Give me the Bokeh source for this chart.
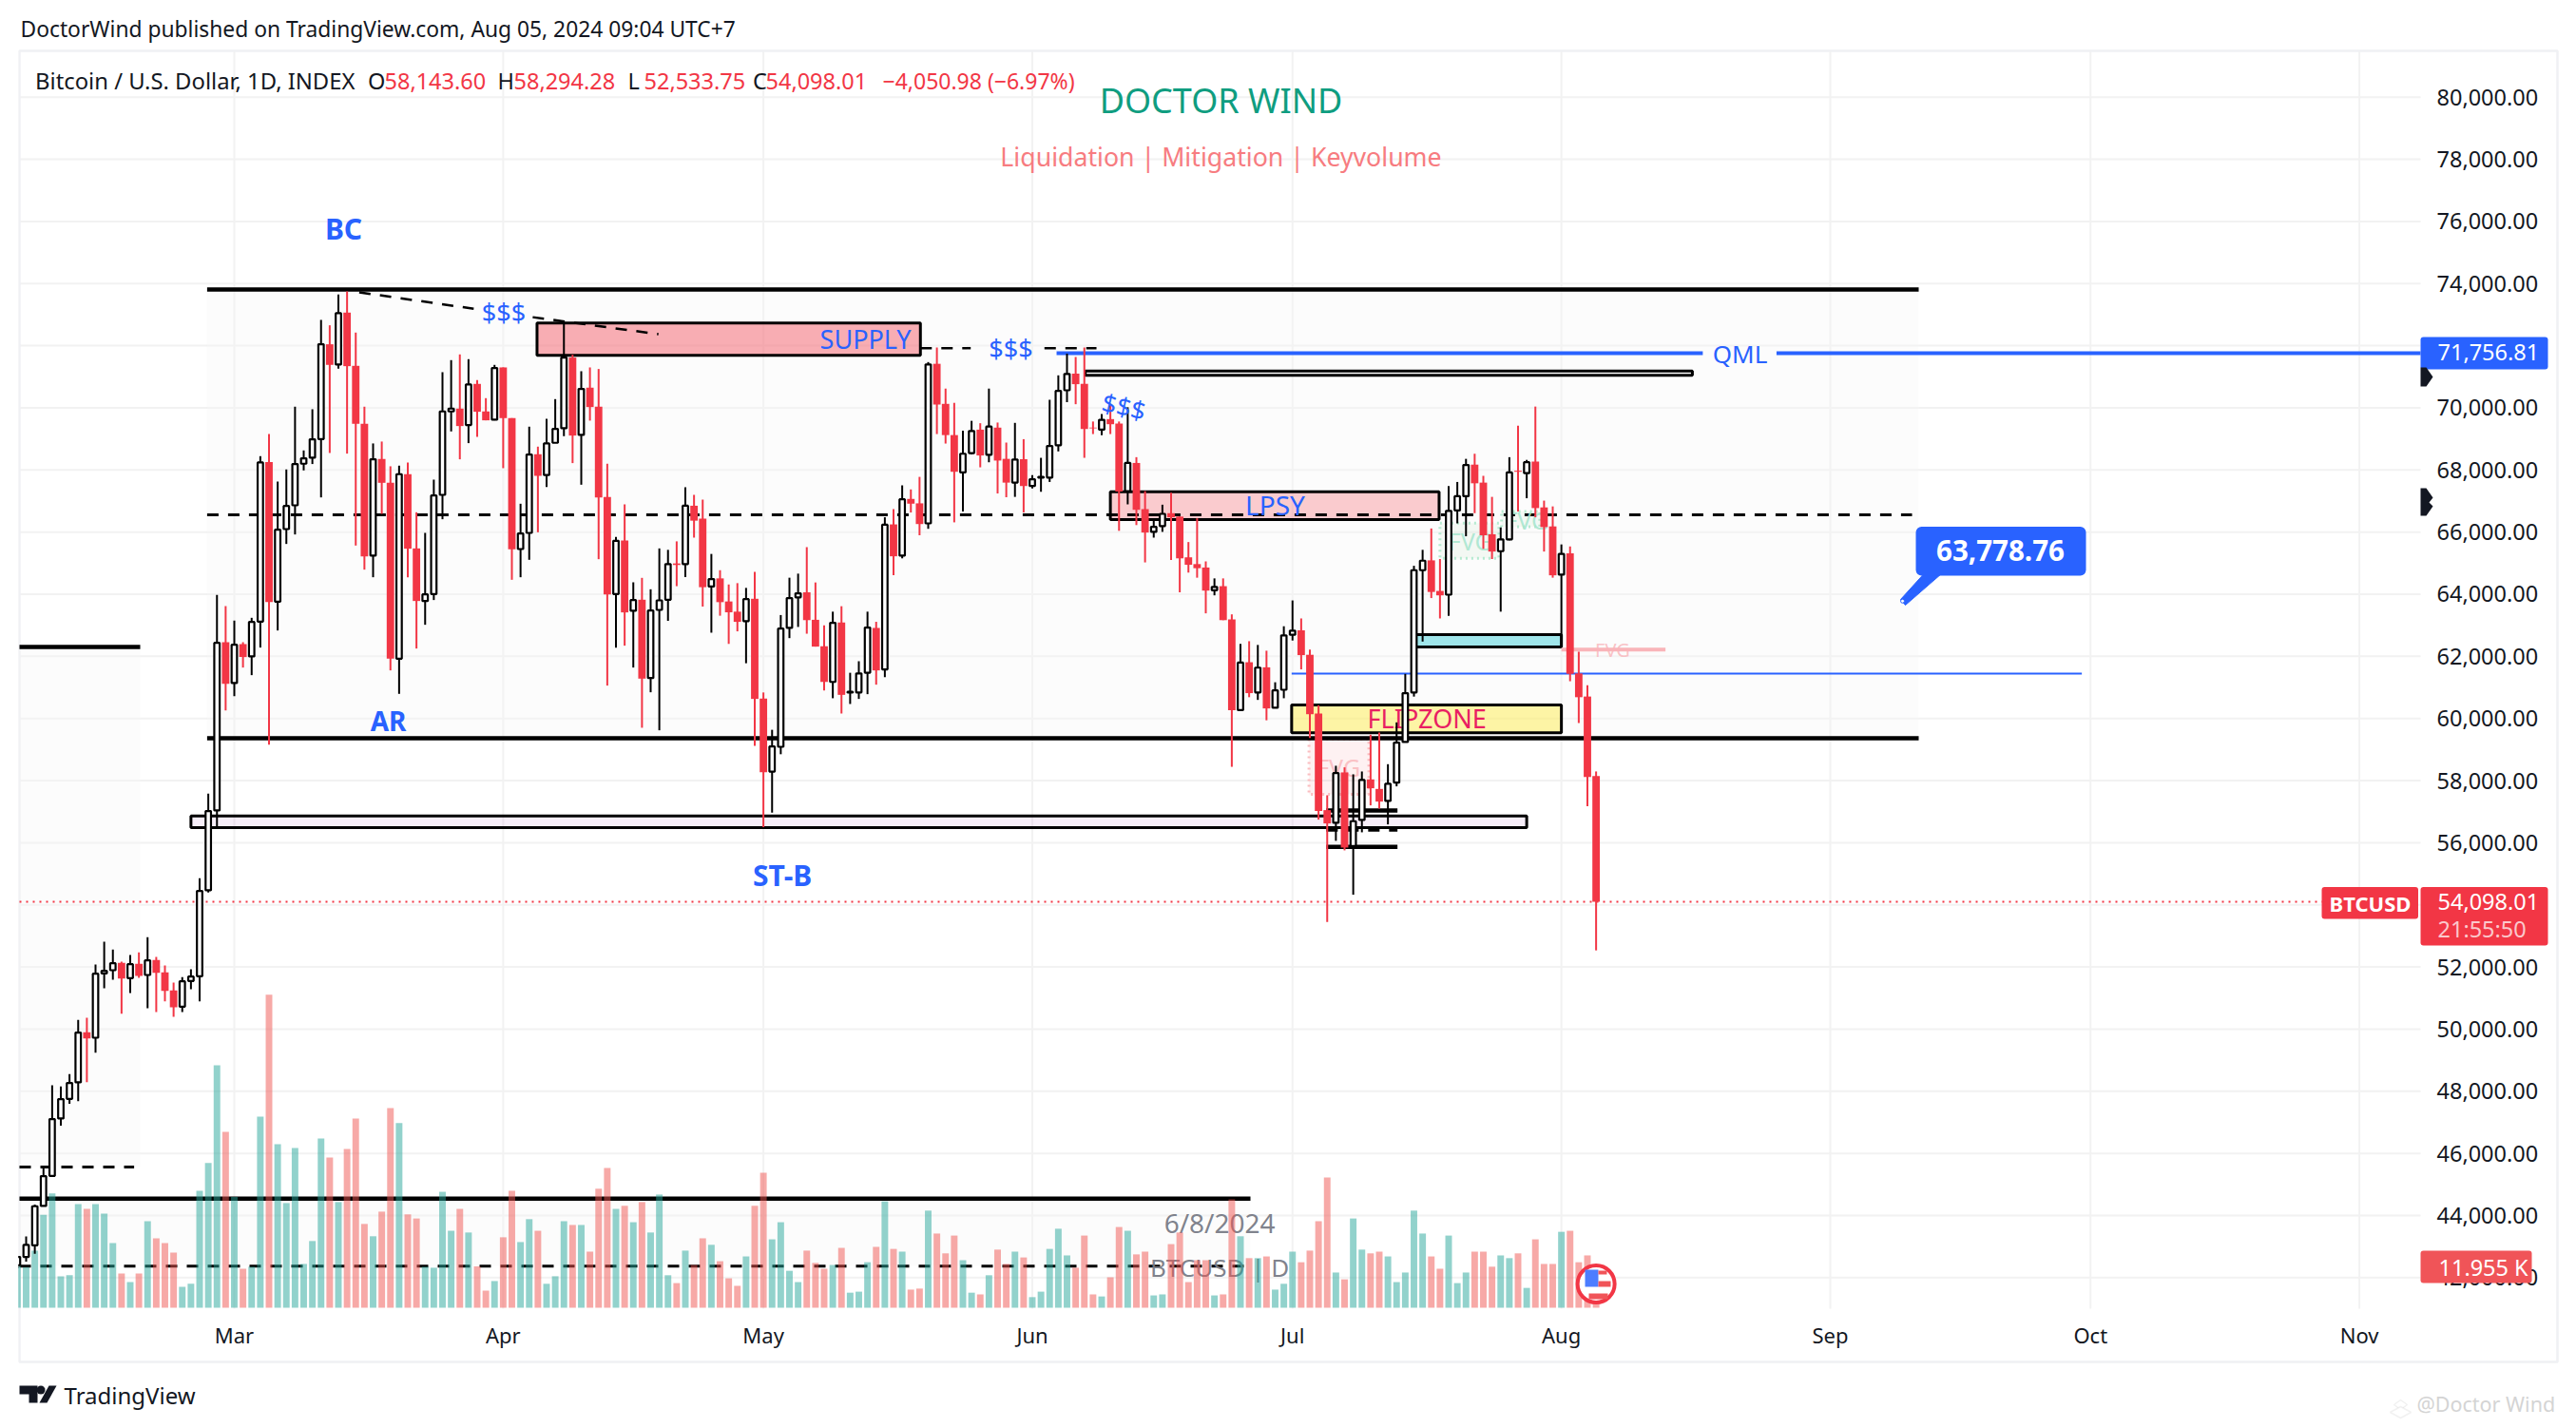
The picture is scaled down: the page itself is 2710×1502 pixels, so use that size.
from bokeh.plotting import figure
from bokeh.embed import file_html
from bokeh.resources import INLINE
from bokeh.core.properties import value
from bokeh.models import (Range1d, LinearAxis, FixedTicker, NumeralTickFormatter, Label,
                          BoxAnnotation, PolyAnnotation)
import math

# ---------- data (day number relative to 1 Mar 2024) ----------
first_day = -25
opens = [42400,42665,43042,44307,45276,47122,47755,48285,49897,49723,
 51794,51896,52131,51641,52100,51743,52222,51825,51243,50723,
 51549,51702,54468,57039,62455,61139,62394,61996,63118,68251,
 63761,66096,66861,68200,68393,68995,72045,71392,73065,71351,
 69485,65240,68353,67586,61925,67863,65474,63781,64005,67198,
 69883,69975,69444,70770,69883,69617,71300,69668,65454,65974,
 68505,67835,68873,69342,71617,69128,70648,70036,67127,64005,
 65729,63465,63822,61302,63495,63821,64990,64968,66848,66433,
 64247,64509,63766,63438,63132,63853,60640,58290,59088,62914,
 63897,64061,63176,62324,61176,63089,60835,60837,61471,62914,
 61580,66247,65242,67067,66925,66280,71417,70127,69122,67920,
 68543,69297,68488,69362,68357,67592,68346,67482,67750,67755,
 68794,70565,71100,70772,69363,69297,69636,69493,67318,68225,
 66739,66007,66193,66608,66498,65187,64969,64859,64127,64258,
 63187,60268,61810,60837,61646,60345,60924,62695,62837,62050,
 60160,57049,56641,58263,55896,56733,58038,57732,57345,57936,
 59242,60837,64772,65089,64105,63985,66695,67154,68171,67592,
 65930,65384,65766,67974,67898,68269,66794,66182,64630,65318,
 61449,60706,58143.60]
closes = [42665,43053,44297,45266,47102,47745,48265,49887,49703,51784,
 51876,52120,51631,52090,51712,52212,51814,51233,50703,51539,
 51692,54448,57018,62435,61119,62373,61976,63108,68240,63750,
 66076,66841,68190,68373,68985,72045,71382,73045,71341,69485,
 65219,68342,67586,61925,67863,65464,63781,63995,67178,69883,
 69975,69413,70750,69873,69597,71280,69668,65444,65954,68495,
 67810,68852,69322,71617,69107,70607,70025,67116,63995,65719,
 63414,63812,61282,63475,63801,64968,64940,66848,66367,64225,
 64487,63744,63417,63110,63842,60629,58269,59099,62892,63875,
 64029,63165,62313,61176,63078,60760,60857,61449,62925,61547,
 66236,65220,67056,66914,66258,71395,70105,69122,67941,68521,
 69253,68466,69395,68302,67592,68335,67482,67701,67776,68772,
 70543,71089,70761,69318,69340,69614,69472,67307,68225,66717,
 65985,66171,66586,66477,65154,64947,64837,64116,64236,63165,
 60268,61799,60815,61635,60323,60902,62673,62826,62039,60137,
 57018,56621,58242,55845,56692,58018,57753,57324,57896,59222,
 60813,64772,65078,64072,63963,66684,67154,68160,67570,65897,
 65373,65766,67920,67941,68247,66772,66160,64608,65296,61438,
 60684,58115,54098.01]
highs = [42700,43328,44348,45572,48193,48153,48550,50295,50366,52080,
 52816,52561,52171,52386,52467,52959,52324,52049,51498,51672,
 51927,54856,57579,63975,63618,63149,62455,63240,68444,69158,
 67626,68016,70036,68628,69954,72830,72657,73647,73748,72422,
 70036,68853,68914,68118,68138,68240,66637,65974,67688,71147,
 71535,71719,71566,70892,70311,71382,71300,69668,66912,69393,
 68750,69648,70280,72708,71709,71178,71300,71250,68200,65841,
 66892,64383,64526,64158,65474,65428,65701,67439,67198,67045,
 65296,64772,64313,64356,64203,64717,60837,59635,63329,64531,
 64662,65515,64378,63001,63438,63613,61471,61842,63438,63111,
 66477,66739,67504,67373,67777,71472,71942,70619,70160,69264,
 69581,69504,70619,69526,68881,69515,68991,67832,68390,70259,
 71045,71745,71636,71942,69559,69800,70127,69559,70018,68411,
 67318,66367,66881,67264,66498,65679,66444,65056,64509,64509,
 63351,62400,62487,62367,62181,61165,62968,63799,63220,62214,
 60425,57528,58477,58426,58202,58293,59477,59548,58528,59874,
 61435,64914,65428,66116,65132,67482,67613,68357,68521,67810,
 67133,66149,68411,69428,68324,70040,67012,66826,65602,65537,
 62149,61066,58294.28]
lows = [42300,42512,42767,44297,45246,46888,47592,47683,48295,49244,
 51315,51590,50499,51162,51651,50672,50550,50896,50397,50550,
 51284,50896,54400,56508,60262,60721,61639,61394,62282,59160,
 62832,65617,65923,67985,68190,67116,68546,71259,68526,65566,
 64791,64546,66586,61547,60792,64546,62251,63016,63812,66413,
 69240,68342,68863,69067,69597,69597,68057,64464,64546,65107,
 65994,67453,68873,69087,68220,67524,69587,65127,61058,62282,
 62343,61639,59701,60843,59619,63143,64258,64553,65821,63602,
 62761,63307,62400,62804,61777,59121,56500,56968,58848,62586,
 62946,62728,62313,60902,60651,60159,60466,60629,60782,61088,
 61329,64608,65154,66630,65897,66105,69155,68849,66313,66662,
 68500,68084,68247,67242,67122,67133,66630,67406,67297,67613,
 68597,70182,70116,68390,69155,69122,69155,66040,66892,66225,
 65023,65821,66007,65100,64061,64695,64531,63384,63963,63165,
 58443,60268,60684,60597,59941,60345,60651,62509,61580,59372,
 56743,53448,56060,55754,54326,56335,57202,57100,56590,57814,
 59242,60704,62476,63875,63220,63307,66280,65865,66608,65460,
 65132,63438,65734,66662,67089,66477,65373,64531,62323,61198,
 59853,57175,52533.75]
volumes_k = [13.4,11.8,16.7,27.2,33.4,9.2,9.5,30.3,28.9,30.3,
 27.5,18.9,10.0,7.5,10.0,25.3,20.3,18.9,16.1,6.1,
 7.0,34.2,42.3,70.9,51.4,32.4,11.4,12.0,55.9,91.5,
 47.8,30.6,46.7,12.8,19.5,49.5,43.9,30.9,46.4,55.3,
 24.5,20.9,28.1,58.4,54.0,27.3,26.1,12.0,11.7,33.9,
 22.5,28.9,22.0,12.1,5.0,7.8,20.6,34.2,19.2,25.9,
 22.5,7.0,9.2,25.3,24.2,24.2,16.4,34.8,40.9,28.9,
 29.8,25.0,30.9,22.0,33.1,9.5,7.2,16.7,12.5,20.3,
 18.4,13.6,8.6,6.4,15.0,29.8,39.5,20.0,25.0,10.8,
 7.5,16.7,13.1,11.4,12.5,17.5,4.4,4.7,13.3,17.8,
 31.1,17.2,16.4,5.3,5.6,28.4,21.7,15.9,21.1,13.9,
 4.4,3.9,9.5,17.0,12.8,16.4,14.7,3.1,4.7,17.2,
 23.1,15.3,11.7,21.1,3.9,3.3,8.9,23.6,22.5,15.6,
 16.4,3.6,3.9,18.6,22.0,7.5,13.9,13.9,3.6,3.9,
 31.7,20.9,14.5,14.5,15.0,5.3,7.0,16.4,13.3,16.7,
 25.3,38.1,10.3,8.3,26.1,17.0,15.9,16.4,15.0,7.5,
 10.3,28.4,21.7,15.0,11.4,21.1,7.2,10.3,16.4,16.4,
 12.0,15.3,14.5,15.9,5.8,20.0,12.8,12.8,22.2,22.5,
 13.3,15.3,11.955]

price_ticks = list(range(42000, 82000, 2000))
month_ticks = [0, 31, 61, 92, 122, 153, 184, 214, 245]
month_labels = ["Mar", "Apr", "May", "Jun", "Jul", "Aug", "Sep", "Oct", "Nov"]

level_bc, level_mid, level_ar = 73809, 66555, 59363
level_qml, level_line2 = 71756.81, 61447
last_price, callout_price = 54098.01, 63778.76

FONT = "Noto Sans"
BLUE, RED, INK = "#2962ff", "#f23645", "#131722"
GRID = "#f2f2f2"
W, H = 2702, 1494
TS = 23.5

# ---------- layout helpers: reference pixel -> data space ----------
def X(px): return (px - 246) / 9.125
def Y(py): return 80000 - (py - 101.7) * 30.605

days = [first_day + i for i in range(len(opens))]
up = [c >= o for o, c in zip(opens, closes)]

p = figure(width=W, height=H, output_backend="svg", toolbar_location=None,
           x_range=Range1d(X(0), X(W)), y_range=Range1d(Y(H), Y(0)),
           x_axis_location=None, y_axis_location=None,
           background_fill_color="white", border_fill_color="white",
           min_border_left=0, min_border_right=0, min_border_top=0, min_border_bottom=0)
p.outline_line_color = None
p.grid.visible = False
p.extra_y_ranges = {"vol": Range1d(-(H - 1375) * 0.278, 1375 * 0.278)}

yax = LinearAxis(fixed_location=X(2546), ticker=FixedTicker(ticks=price_ticks),
                 formatter=NumeralTickFormatter(format="0,0.00"), major_label_standoff=11)
xax = LinearAxis(fixed_location=Y(1376), ticker=FixedTicker(ticks=month_ticks),
                 major_label_overrides=dict(zip(month_ticks, month_labels)), major_label_standoff=6)
for ax in (xax, yax):
    ax.axis_line_color = None
    ax.major_tick_line_color = None
    ax.minor_tick_line_color = None
    ax.major_label_text_font = FONT
    ax.major_label_text_color = INK
yax.major_label_text_font_size = f"{TS}px"
xax.major_label_text_font_size = "22px"
p.add_layout(yax, "right")
p.add_layout(xax, "below")

# grid and frame
p.segment(x0=month_ticks, x1=month_ticks, y0=Y(1376), y1=Y(53), line_color=GRID, line_width=2)
p.segment(x0=X(20), x1=X(2546), y0=price_ticks, y1=price_ticks, line_color=GRID, line_width=2)
p.quad(left=[X(20)], right=[X(2690)], top=[Y(53)], bottom=[Y(1432)], fill_alpha=0,
       line_color="#f0f1f4", line_width=2.5)

def T(text, px, py, size, color, align="center", weight="normal", alpha=1.0, angle=0):
    p.add_layout(Label(x=X(px), y=Y(py), text=text, text_font=FONT, text_font_size=f"{size}px",
                       text_color=color, text_align=align, text_baseline="middle",
                       text_font_style=weight, text_alpha=alpha, angle=angle))

# faint backdrop zones
p.quad(left=[X(217.4), X(20), X(20)], right=[X(2018), X(147), X(1315)],
       top=[level_bc, Y(680), Y(1260)], bottom=[level_ar, Y(1227), Y(1331)],
       fill_color="#f5f5f5", fill_alpha=0.3, line_color=None)

# zones
def box(l, r, t, b, fill, line="black", lw=3, alpha=1.0, dash="solid"):
    p.quad(left=[l], right=[r], top=[t], bottom=[b], fill_color=fill, fill_alpha=alpha,
           line_color=line, line_width=lw, line_dash=dash)

box(34.9, 79.1, 72728, 71687, "#f23645", alpha=0.4)
box(101.0, 138.9, 67296, 66400, "#f23645", alpha=0.25)
box(121.9, 153.0, 60434, 59540, "#ffeb3b", alpha=0.45)
box(136.0, 153.0, 62699, 62300, "#1fc7d4", alpha=0.42)
box(-5.0, 149.0, 56863, 56487, "#9c27b0", alpha=0.08)
box(98.1, 168.1, 71188, 71044, "white")
box(123.9, 130.8, 59340, 57560, "#f23645", alpha=0.07, line="#fbbdc0", lw=3, dash="dotted")
box(139.0, 145.8, 66285, 65155, "#4caf50", alpha=0.05, line="#b5ead0", lw=3, dash="dotted")
box(146.1, 150.5, 66662, 66170, "#4caf50", alpha=0.05, line="#b5ead0", lw=3, dash="dotted")

# horizontal levels
def hline(x0, x1, y0, y1=None, color="black", w=4.5, dash="solid"):
    p.line([x0, x1], [y0, y0 if y1 is None else y1], line_color=color, line_width=w, line_dash=dash)

DASH = [12, 10]
hline(X(217.4), X(2018), level_bc)
hline(X(217.4), X(2018), level_ar)
hline(X(217.4), X(2011), level_mid, w=3, dash=DASH)
hline(X(20), X(147), 62300)
hline(X(20), X(140.6), 45561, w=3, dash=DASH)
hline(X(20), X(1315), 44546)
hline(X(20), X(1315), 42372, w=3, dash=DASH)
hline(14.4, 27.6, 73717, 73190, w=2.5, dash=DASH)
hline(34.4, 48.9, 72917, 72370, w=2.5, dash=DASH)
hline(79.1, 84.9, 71920, w=2.5, dash=DASH)
hline(93.4, 99.4, 71920, w=2.5, dash=DASH)
hline(94.8, 169.3, level_qml, color=BLUE, w=4)
hline(177.8, X(2546), level_qml, color=BLUE, w=4)
hline(121.9, 213.0, level_line2, color=BLUE, w=2)
hline(125.9, 134.1, 57037)
hline(125.9, 134.1, 55870)
hline(125.9, 134.1, 56400, w=3, dash=DASH)
hline(153.0, 165.0, 62220, color="#f9b4b9", w=4)
p.line([X(20), X(2546)], [last_price, last_price], line_color=RED, line_width=2, line_dash=[2, 5])

# texts that lie under the candles
def under(text, d, price, size, color, alpha=1.0):
    p.text([d], [price], text=[text], text_font=value(FONT), text_font_size=f"{size}px", text_color=color,
           text_align="center", text_baseline="middle", text_alpha=alpha)

under("FLIPZONE", 137.5, 60000, 27, "#e91e63")
under("FVG", 127.3, 58425, 25, "#f9b4b9", 0.8)
under("FVG", 142.5, 65710, 25, "#a8e6cf", 0.9)
under("FVG", 149.0, 66390, 25, "#a8e6cf", 0.9)
under("FVG", 158.9, 62220, 20, "#f9b4b9", 0.8)
under("6/8/2024", X(1282.6), Y(1285), 28, "#787b86", 0.95)
under("BTCUSD | D", X(1282.6), Y(1332), 26, "#787b86", 0.95)

# volume
vcolors = ["#26a69a" if u else "#ef5350" for u in up]
p.vbar(x=days, top=volumes_k, bottom=0, width=0.76, fill_color=vcolors, fill_alpha=0.5,
       line_color=None, y_range_name="vol")

# candles
wick_colors = ["black" if u else RED for u in up]
p.segment(x0=days, x1=days, y0=lows, y1=highs, line_color=wick_colors, line_width=2)
ud = [d for d, u in zip(days, up) if u]
dd = [d for d, u in zip(days, up) if not u]
p.vbar(x=ud, width=0.62, bottom=[o for o, u in zip(opens, up) if u], top=[c for c, u in zip(closes, up) if u],
       fill_color="white", line_color="black", line_width=2.2)
p.vbar(x=dd, width=0.86, bottom=[c for c, u in zip(closes, up) if not u], top=[o for o, u in zip(opens, up) if not u],
       fill_color=RED, line_color=None)

# the chart pane clips everything left of its edge
p.quad(left=[X(0)], right=[X(18.7)], top=[Y(0)], bottom=[Y(H)], fill_color="white", line_color=None)

# flag badge
p.scatter([157], [Y(1350)], size=39, marker="circle", fill_color="white", line_color=RED, line_width=4)
p.quad(left=[X(1667), X(1681), X(1671)], right=[X(1681), X(1694), X(1691)],
       top=[Y(1335), Y(1347), Y(1360)], bottom=[Y(1353), Y(1353), Y(1366)],
       fill_color=["#4c7dff", "#f05458", "#f05458"], line_color=None)
p.quad(left=[X(1681)], right=[X(1690)], top=[Y(1336)], bottom=[Y(1340)], fill_color="#f05458", line_color=None)

# drawing labels
T("BC", 361, 240, 30, BLUE, weight="bold")
T("AR", 408, 757.7, 28, BLUE, weight="bold")
T("ST-B", 822.6, 920, 30, BLUE, weight="bold")
T("SUPPLY", 910, 356, 27, BLUE)
T("LPSY", 1341, 530, 28, BLUE)
T("QML", 1830, 371, 26, BLUE)
T("$$$", 529.5, 328, 27, BLUE)
T("$$$", 1063, 366, 27, BLUE)
T("$$$", 1182, 427, 27, BLUE, angle=-0.22)

# callout
p.patch([X(2022.6), X(2040.8), X(2004), X(1999)], [Y(604), Y(604), Y(636), Y(630)], fill_color=BLUE, line_color=BLUE, line_width=1)
p.scatter([X(2001)], [callout_price], size=4, marker="circle", fill_color="white", line_color=BLUE, line_width=1)
p.add_layout(BoxAnnotation(left=X(2015), right=X(2194), top=Y(553.6), bottom=Y(605), fill_color=BLUE, fill_alpha=1,
                           line_color=None, border_radius=6))
T("63,778.76", 2104, 578, 29.5, "white", weight="bold")

# price scale tags
def tag(l, r, t, b, color, radius=0):
    p.add_layout(BoxAnnotation(left=X(l), right=X(r), top=Y(t), bottom=Y(b), fill_color=color, fill_alpha=1,
                               line_color=None, border_radius=radius))

tag(2546, 2680, 354, 388, BLUE, 3)
T("71,756.81", 2564, 370, TS, "white", align="left")
tag(2442, 2543.5, 932.6, 966, RED, 3)
T("BTCUSD", 2493, 949, 22, "white", weight="bold")
tag(2546, 2680, 932.6, 994, RED, 3)
T("54,098.01", 2564, 948, TS, "white", align="left")
T("21:55:50", 2564, 976, TS, "#fbc8cc", align="left")
tag(2546, 2663, 1315, 1349, "#f05458", 3)
T("11.955 K", 2565, 1332, TS, "white", align="left")

def poly(pts, fill=INK, line=None, lw=1, falpha=1.0):
    p.add_layout(PolyAnnotation(xs=[X(a) for a, b in pts], ys=[Y(b) for a, b in pts],
                                fill_color=fill, fill_alpha=falpha, line_color=line, line_width=lw))

poly([(2546, 386), (2552, 386), (2559, 396), (2552, 406), (2546, 406)])
poly([(2546, 513), (2552, 513), (2559, 523), (2555, 528), (2559, 532), (2552, 542), (2546, 542)])

# header
T("DoctorWind published on TradingView.com, Aug 05, 2024 09:04 UTC+7", 21, 30, 22.8, INK, align="left")
T("Bitcoin / U.S. Dollar, 1D, INDEX", 36.6, 84.7, 23.8, INK, align="left")
for letter, lx, val, vx in [("O", 386.6, "58,143.60", 404), ("H", 523, "58,294.28", 540),
                            ("L", 660, "52,533.75", 677), ("C", 791.5, "54,098.01", 805)]:
    T(letter, lx, 84.7, TS, INK, align="left")
    T(val, vx, 84.7, TS, RED, align="left")
T("\u22124,050.98 (\u22126.97%)", 928, 84.7, 23, RED, align="left")
T("DOCTOR WIND", 1284, 105, 36, "#0f9d80")
T("Liquidation | Mitigation | Keyvolume", 1284, 164, 26.7, "#f77c80")

# footer logo
poly([(20, 1457), (39, 1457), (39, 1475), (30, 1475), (30, 1466), (20, 1466)])
poly([(42.5 + 4.5 * math.cos(i * math.pi / 8), 1461.5 + 4.5 * math.sin(i * math.pi / 8)) for i in range(16)])
poly([(41, 1475), (51, 1457), (59, 1457), (49, 1475)])
T("TradingView", 67, 1467, 24, INK, align="left")

# watermark
poly([(2525, 1472), (2532, 1477), (2525, 1482), (2518, 1477)], fill="white", line="#cfcfcf", lw=1.5)
poly([(2525, 1479), (2536, 1485), (2525, 1491), (2514, 1485)], fill="white", line="#cfcfcf", lw=1.5)
T("@Doctor Wind", 2542, 1476, 21.5, "#d4d4d4", align="left")

open("out.html", "w").write(file_html(p, INLINE))
